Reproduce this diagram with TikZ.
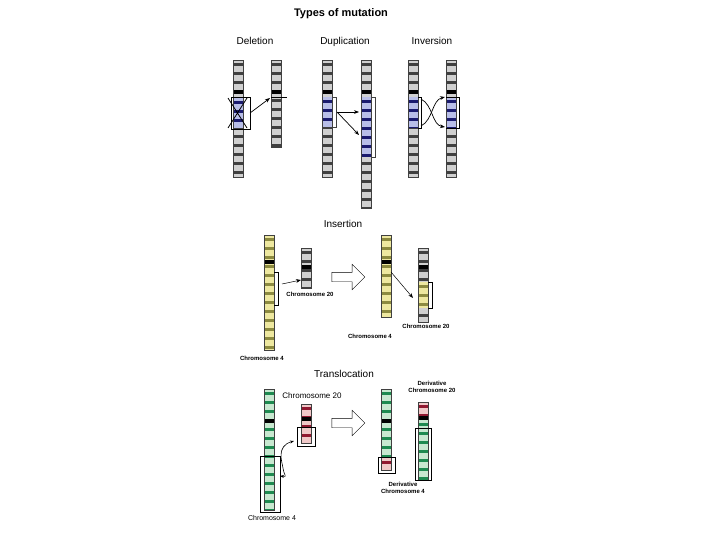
\documentclass[tikz,border=0pt]{standalone}
\usepackage{fontspec}
\setmainfont{Liberation Sans}
\usetikzlibrary{arrows.meta,shapes.arrows}
\definecolor{gl}{HTML}{D0D0D0}\definecolor{gd}{HTML}{404040}
\definecolor{yl}{HTML}{EEE8A0}\definecolor{yd}{HTML}{8C8A40}
\definecolor{bl}{HTML}{B8BEE8}\definecolor{bd}{HTML}{1A1A6E}
\definecolor{grl}{HTML}{C8E8D0}\definecolor{grd}{HTML}{1E8A50}
\definecolor{rl}{HTML}{F0C8C8}\definecolor{rd}{HTML}{901830}
\newcommand\region[5]{%
 \begin{scope}\clip (#1,#2) rectangle (#1+10,#3);
 \fill[#4] (#1,#2) rectangle (#1+10,#3);
 \foreach \k in {0,...,25} \fill[#5] (#1,#2+3+\k*9) rectangle (#1+10,#2+6+\k*9);
 \end{scope}}
\newcommand\chrom[6]{%
 \region{#1}{#2}{#3}{#5}{#6}
 \fill[black] (#1,#4-2) rectangle (#1+10,#4+2);
 \draw[gd,line width=0.5pt] (#1,#2) rectangle (#1+10,#3);}
\tikzset{lbl/.style={font=\fontsize{10}{11}\selectfont,anchor=base},
 sm/.style={font=\bfseries\fontsize{6}{7}\selectfont,align=center},
 arr/.style={-{Stealth[length=5pt]},line width=0.7pt},
 box/.style={draw=black,line width=0.6pt},
 hollow/.style={draw=black,fill=white,single arrow,single arrow head extend=8pt,minimum height=33pt,inner xsep=0pt,inner ysep=4.5pt}}
\begin{document}
\begin{tikzpicture}[x=1pt,y=-1pt]
\useasboundingbox (0,0) rectangle (720,540);
\node[font=\bfseries\fontsize{11}{12}\selectfont] (t) at (341,14) {Types of mutation};
\node[lbl] (l1) at (255,45) {Deletion};
\node[lbl] (l2) at (345,45) {Duplication};
\node[lbl] (l3) at (432,45) {Inversion};
% deletion
\chrom{233}{60}{177}{92}{gl}{gd}
\region{233}{98}{128}{bl}{bd}
\draw[gd] (233,60) rectangle (243,177);
\draw[line width=0.8pt] (228,98) -- (247,128) (247,98) -- (228,128);
\draw[box] (231,97) rectangle (250,129);
\chrom{271}{60}{147}{92}{gl}{gd}
\draw (271,97) -- (287,97);
\coordinate (d1) at (250,113); \coordinate (d2) at (270,98);
\draw[arr] (d1) -- (d2);
% duplication
\chrom{322}{60}{177}{92}{gl}{gd}
\region{322}{97}{127}{bl}{bd}\draw[gd] (322,60) rectangle (332,177);
\draw[gd] (332,97) -| (336,127) -- (332,127);
\chrom{361}{60}{208}{92}{gl}{gd}
\region{361}{97}{157}{bl}{bd}\draw[gd] (361,60) rectangle (371,208);
\draw[gd] (371,97) -| (375,157) -- (371,157);
\coordinate (u0) at (337,112);
\draw[arr] (u0) -- (359,112);
\draw[arr] (u0) -- (359,135);
% inversion
\chrom{408}{60}{177}{92}{gl}{gd}
\region{408}{97}{128}{bl}{bd}\draw[gd] (408,60) rectangle (418,177);
\draw (418,97) -| (421,128) -- (418,128);
\chrom{446}{60}{177}{92}{gl}{gd}
\region{446}{97}{128}{bl}{bd}\draw[gd] (446,60) rectangle (456,177);
\draw[box] (446,97) -| (459,128) -- (446,128);
\draw[arr] (421,99) .. controls (433,105) and (432,125) .. (445,127);
\draw[arr] (421,126) .. controls (433,120) and (432,100) .. (445,97);
% insertion
\node[lbl] (ti) at (343,228) {Insertion};
\chrom{264}{235}{350}{262}{yl}{yd}
\draw (274,272) -| (278,305) -- (274,305);
\chrom{301}{248}{288}{267}{gl}{gd}
\draw[arr,line width=0.5pt] (282,284) -- (301,280);
\node[sm] (c20a) at (310,294) {Chromosome 20};
\node[hollow] (h1) at (346,277) {};
\chrom{381}{235}{317}{262}{yl}{yd}
\chrom{418}{248}{322}{267}{gl}{gd}
\region{418}{282}{308}{yl}{yd}\draw[gd] (418,248) rectangle (428,322);
\draw (428,282) -| (432,308) -- (428,308);
\draw[arr,line width=0.5pt] (391,272) -- (413,298);
\node[sm] (c20b) at (426,326) {Chromosome 20};
\node[sm] (c4b) at (370,336) {Chromosome 4};
\node[sm] (c4a) at (262,358) {Chromosome 4};
% translocation
\node[lbl] (tt) at (344,377) {Translocation};
\chrom{264}{389}{510}{421}{grl}{grd}
\draw[box] (260,456) rectangle (280,512);
\chrom{301}{404}{443}{419}{rl}{rd}
\draw[box] (297,427) rectangle (315,446);
\node[font=\fontsize{8}{9}\selectfont] (c20c) at (312,396) {Chromosome 20};
\draw[{Stealth[length=4pt]}-{Stealth[length=4pt]},line width=0.6pt] (294,441) .. controls (276,446) and (282,462) .. (283,468) .. controls (284,476) and (288,477) .. (280,476);
\node[font=\fontsize{7}{8}\selectfont] (c4c) at (272,518) {Chromosome 4};
\node[hollow] (h2) at (346,423) {};
\chrom{381}{389}{470}{421}{grl}{grd}
\region{381}{458}{470}{rl}{rd}\draw[gd] (381,389) rectangle (391,470);
\draw[box] (378,457) rectangle (395,473);
\chrom{418}{402}{480}{418}{grl}{grd}
\region{418}{402}{416}{rl}{rd}\fill (418,416) rectangle (428,420);\draw[gd] (418,402) rectangle (428,480);
\draw[box] (415,428) rectangle (431,480);
\node[sm] (d20) at (432,387) {Derivative\\Chromosome 20};
\node[sm] (d4) at (403,488) {Derivative\\Chromosome 4};
\end{tikzpicture}
\end{document}
